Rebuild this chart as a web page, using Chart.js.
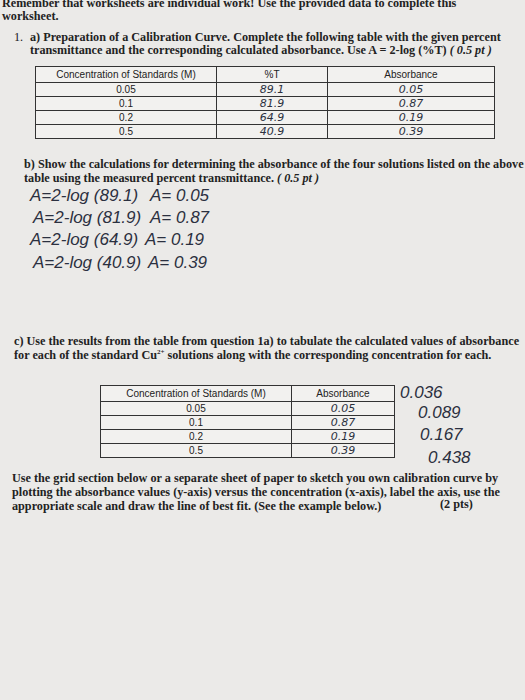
<!DOCTYPE html>
<html><head><meta charset="utf-8">
<script src="https://cdn.jsdelivr.net/npm/chart.js@4/dist/chart.umd.min.js"></script>
<style>
body{margin:0;width:525px;height:700px;background:#ebeae8;font-family:"Liberation Serif",serif;color:#222;position:relative;overflow:hidden}
.t{position:absolute;font-size:12.2px;font-weight:bold;white-space:nowrap}
.h{position:absolute;font-family:"Liberation Sans",sans-serif;font-style:italic;color:#2b3040;font-size:17px;white-space:nowrap}
table{position:absolute;border-collapse:collapse;font-family:"Liberation Sans",sans-serif;font-size:10px;background:#f2f1ef}
td,th{border:1px solid #333;padding:0;height:11px;text-align:center;font-weight:normal}
th{height:15px}
#cv{position:absolute;left:0;top:540px;width:525px;height:160px}
</style></head><body>
<div class="t" style="left:2px;top:-4px">Remember that worksheets are individual work! Use the provided data to complete this</div>
<div class="t" style="left:2px;top:9px">worksheet.</div>
<div class="t" style="left:14px;top:30px;font-weight:normal">1.</div>
<div class="t" style="left:30px;top:30px">a) Preparation of a Calibration Curve. Complete the following table with the given percent</div>
<div class="t" style="left:30px;top:43px">transmittance and the corresponding calculated absorbance. Use A = 2-log (%T) <i>( 0.5 pt )</i></div>
<table id="t1" style="left:35px;top:66px;width:460px"></table>
<div class="t" style="left:24px;top:157px">b) Show the calculations for determining the absorbance of the four solutions listed on the above</div>
<div class="t" style="left:24px;top:171px">table using the measured percent transmittance. <i>( 0.5 pt )</i></div>
<div id="calc"></div>
<div class="t" style="left:14px;top:334px">c) Use the results from the table from question 1a) to tabulate the calculated values of absorbance</div>
<div class="t" style="left:14px;top:348px">for each of the standard Cu<sup style="font-size:7px">2+</sup> solutions along with the corresponding concentration for each.</div>
<table id="t2" style="left:100px;top:385px;width:295px"></table>
<div id="side"></div>
<div class="t" style="left:12px;top:471px">Use the grid section below or a separate sheet of paper to <b>sketch</b> you own calibration curve by</div>
<div class="t" style="left:12px;top:485px">plotting the absorbance values (y-axis) versus the concentration (x-axis), label the axis, use the</div>
<div class="t" style="left:12px;top:499px">appropriate scale and draw the line of best fit. (See the example below.)</div>
<div class="t" style="left:440px;top:497px">(2 pts)</div>
<canvas id="cv"></canvas>
<script>
const concentrations=["0.05","0.1","0.2","0.5"];
const transmittance=["89.1","81.9","64.9","40.9"];
const absorbance=["0.05","0.87","0.19","0.39"];
const calcAbsorbance=["0.036","0.089","0.167","0.438"];
let h='<tr><th style="width:180px">Concentration of Standards (M)</th><th style="width:110px">%T</th><th>Absorbance</th></tr>';
concentrations.forEach((c,i)=>{h+=`<tr><td>${c}</td><td style="font-family:DejaVu Sans;font-style:italic;color:#2b3040;font-size:11px">${transmittance[i]}</td><td style="font-family:DejaVu Sans;font-style:italic;color:#2b3040;font-size:11px">${absorbance[i]}</td></tr>`});
document.getElementById('t1').innerHTML=h;
let h2='<tr><th style="width:190px">Concentration of Standards (M)</th><th>Absorbance</th></tr>';
concentrations.forEach((c,i)=>{h2+=`<tr><td>${c}</td><td style="font-family:DejaVu Sans;font-style:italic;color:#2b3040;font-size:11px">${absorbance[i]}</td></tr>`});
document.getElementById('t2').innerHTML=h2;
const tops=[186,208,230,253];
document.getElementById('calc').innerHTML=transmittance.map((t,i)=>
 `<div class="h" style="left:${30+(i%2)*3}px;top:${tops[i]}px">A=2-log (${t})</div><div class="h" style="left:${[150,150,145,148][i]}px;top:${tops[i]}px">A= ${absorbance[i]}</div>`).join('');
const st=[[400,383],[418,403],[420,425],[428,448]];
document.getElementById('side').innerHTML=calcAbsorbance.map((v,i)=>`<div class="h" style="left:${st[i][0]}px;top:${st[i][1]}px">${v}</div>`).join('');
new Chart(document.getElementById('cv'),{type:'bar',data:{labels:[],datasets:[]},options:{animation:false,responsive:false,plugins:{legend:{display:false}},scales:{x:{display:false},y:{display:false}}}});
</script>
</body></html>
